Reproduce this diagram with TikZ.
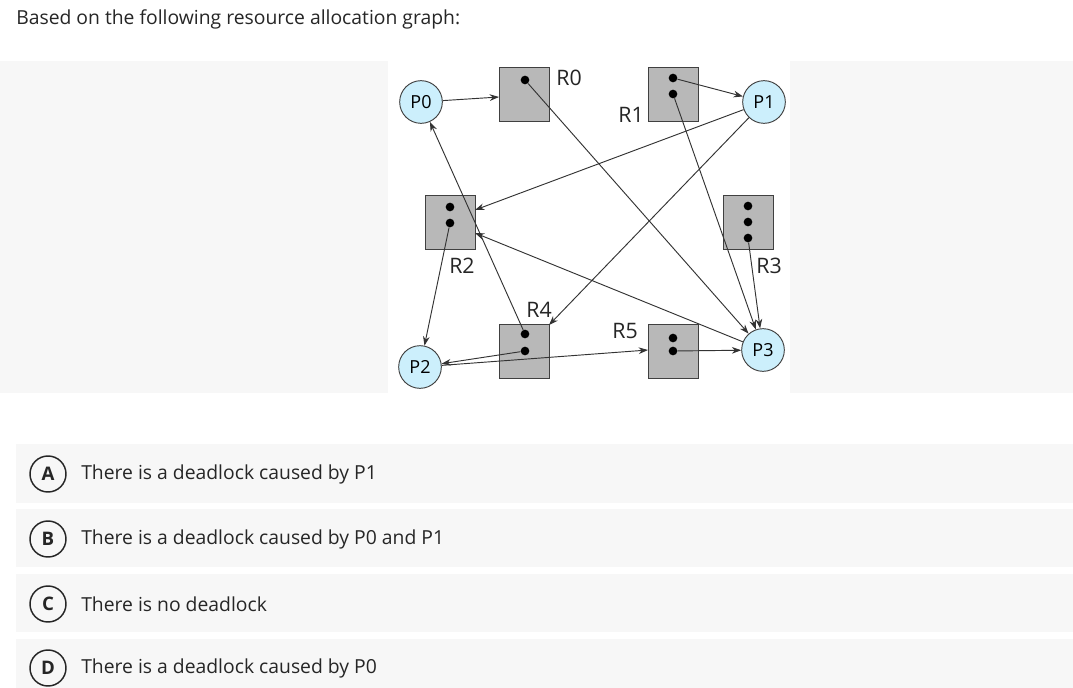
\documentclass[tikz,border=0pt]{standalone}
\usepackage{fontspec}
\setmainfont{Open Sans}
\usetikzlibrary{arrows.meta}
\begin{document}
\begin{tikzpicture}[x=0.75pt,y=-0.75pt,
  proc/.style={circle,draw=black!75,fill=cyan!20,line width=0.7pt,minimum size=32pt,inner sep=0pt,font=\fontsize{13.5}{13.5}\selectfont},
  res/.style={draw=black!75,fill=black!28,line width=0.7pt,minimum width=37.5pt,minimum height=41pt,inner sep=0pt},
  dot/.style={circle,fill=black,inner sep=0pt,minimum size=6.5pt},
  lab/.style={font=\fontsize{16}{16}\selectfont,inner sep=0pt,text=black!85},
  e/.style={-{Stealth[length=7pt,width=5pt]},black!80,line width=0.7pt},
  opt/.style={fill=black!3,draw=none},
  txt/.style={anchor=west,inner sep=0pt,text=black!85,font=\fontsize{14.5}{14.5}\selectfont},
  letter/.style={circle,draw=black!85,line width=1.1pt,minimum size=27pt,inner sep=0pt,font=\fontsize{14}{14}\selectfont\bfseries,text=black!85}]
\useasboundingbox (0,0) rectangle (1073,688);
\fill[white] (0,0) rectangle (1073,688);
\node[txt] (title) at (16,19) {Based on the following resource allocation graph:};
\fill[opt] (0,61) rectangle (388,393);
\fill[opt] (790,61) rectangle (1073,393);
% resources
\node[res] (R0) at (524,94.5) {};
\node[res] (R1) at (673,94.5) {};
\node[res] (R2) at (450,222.5) {};
\node[res] (R3) at (748,222.5) {};
\node[res] (R4) at (524.5,351.5) {};
\node[res] (R5) at (673,351.5) {};
\node[dot] (d0) at (525,80) {};
\node[dot] (d1a) at (673,78) {};
\node[dot] (d1b) at (673,94) {};
\node[dot] (d2a) at (450,207) {};
\node[dot] (d2b) at (450,223) {};
\node[dot] (d3a) at (748,206) {};
\node[dot] (d3b) at (748,222) {};
\node[dot] (d3c) at (748,238) {};
\node[dot] (d4a) at (525,334) {};
\node[dot] (d4b) at (525,351) {};
\node[dot] (d5a) at (673,338) {};
\node[dot] (d5b) at (673,351) {};
\node[lab] (l0) at (569,78) {R0};
\node[lab] (l1) at (631,115) {R1};
\node[lab] (l2) at (462,266) {R2};
\node[lab] (l3) at (769,266) {R3};
\node[lab] (l4) at (539,310) {R4};
\node[lab] (l5) at (625,331) {R5};
% processes
\node[proc] (P0) at (421,102) {P0};
\node[proc] (P1) at (764,102) {P1};
\node[proc] (P2) at (420,367) {P2};
\node[proc] (P3) at (763,350) {P3};
\coordinate (R2e1) at (475,210);
\coordinate (R2e2) at (475,233);
\coordinate (R4c) at (549,325);
\coordinate (R5w) at (648,350);
\coordinate (R0w) at (499,97);
% edges
\draw[e] (P0) -- (R0w);
\draw[e] (d0) -- (P3);
\draw[e] (d1a) -- (P1);
\draw[e] (d1b) -- (P3);
\draw[e] (P1) -- (R2e1);
\draw[e] (P1) -- (R4c);
\draw[e] (d2b) -- (P2);
\draw[e] (d3c) -- (P3);
\draw[e] (d4a) -- (P0);
\draw[e] (d4b) -- (P2);
\draw[e] (P2) -- (R5w);
\draw[e] (d5b) -- (P3);
\draw[e] (P3) -- (R2e2);
% options
\fill[opt] (16,444) rectangle (1073,503);
\fill[opt] (16,509) rectangle (1073,567);
\fill[opt] (16,574) rectangle (1073,632);
\fill[opt] (16,639) rectangle (1073,688);
\node[letter] (A) at (48,474) {A};
\node[letter] (B) at (48,539) {B};
\node[letter] (C) at (48,604) {C};
\node[letter] (D) at (48,668) {D};
\node[txt] (tA) at (81,474) {There is a deadlock caused by P1};
\node[txt] (tB) at (81,539) {There is a deadlock caused by P0 and P1};
\node[txt] (tC) at (81,604) {There is no deadlock};
\node[txt] (tD) at (81,668) {There is a deadlock caused by P0};
\end{tikzpicture}
\end{document}
